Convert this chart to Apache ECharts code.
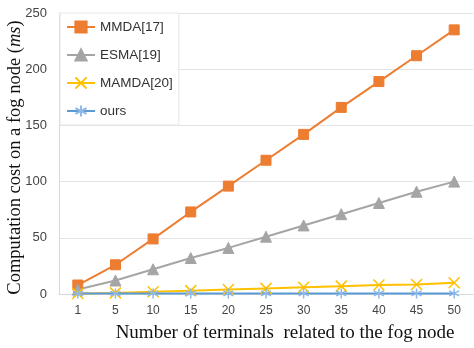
<!DOCTYPE html>
<html><head><meta charset="utf-8">
<script src="https://cdn.jsdelivr.net/npm/echarts@6/dist/echarts.min.js"></script>
<style>html,body{margin:0;padding:0;background:#fff}#c{width:474px;height:348px}</style>
</head><body><div id="c"></div>
<script>
const categories = ['1','5','10','15','20','25','30','35','40','45','50'];
const mmda = [8, 26, 49, 73, 96, 119, 142, 166, 189, 212, 235];
const esma = [4, 12, 22, 32, 41, 51, 61, 71, 81, 91, 100];
const mamda = [0.5, 1, 2, 3, 4, 5, 6, 7, 8, 8.5, 10];
const ours = [0.4, 0.4, 0.5, 0.5, 0.5, 0.5, 0.5, 0.5, 0.5, 0.5, 0.5];
const yTicks = [0, 50, 100, 150, 200, 250];

const xPath = 'path://M0,0L10,10M10,0L0,10';
const starPath = 'path://M5,0L5,10M0,2.5L10,7.5M0,7.5L10,2.5';

const chart = echarts.init(document.getElementById('c'));
function s(name, data, color, symbol, size, extra) {
  return Object.assign({
    name, type: 'line', data, symbol, symbolSize: size,
    lineStyle: {color, width: 2},
    itemStyle: {color, borderColor: color, borderWidth: 1},
    z: 3
  }, extra || {});
}
chart.setOption({
  animation: false,
  grid: {left: 59, right: 1, top: 13, bottom: 54, containLabel: false, outerBoundsMode: 'none'},
  legend: {
    orient: 'vertical', left: 60, top: 13,
    itemGap: 14, itemWidth: 28, itemHeight: 14,
    padding: [7, 6, 7, 6],
    backgroundColor: '#fff', borderColor: '#e6e6e6', borderWidth: 1,
    textStyle: {fontFamily: 'Liberation Sans', fontSize: 13.5, color: '#333'},
    data: ['MMDA[17]', 'ESMA[19]', 'MAMDA[20]', 'ours']
  },
  xAxis: {
    type: 'category', data: categories, boundaryGap: true,
    name: 'Number of terminals  related to the fog node',
    nameLocation: 'middle', nameGap: 30, nameMoveOverlap: false,
    nameTextStyle: {fontFamily: 'Liberation Serif', fontSize: 19, color: '#111', padding: [0, 0, 0, 38]},
    axisLine: {lineStyle: {color: '#d9d9d9'}},
    axisTick: {show: false},
    axisLabel: {fontFamily: 'Liberation Sans', fontSize: 12, color: '#444', margin: 11},
    z: 1
  },
  yAxis: {
    type: 'value', min: 0, max: 250, interval: 50,
    name: '{n|Computation cost on a fog node (}{i|ms}{n|)}',
    nameLocation: 'middle', nameGap: 34, nameMoveOverlap: false,
    nameTextStyle: {padding: [0, 8, 0, 0], rich: {
      n: {fontFamily: 'Liberation Serif', fontSize: 18.5, color: '#111'},
      i: {fontFamily: 'Liberation Serif', fontSize: 18.5, color: '#111', fontStyle: 'italic'}
    }},
    axisLine: {show: true, lineStyle: {color: '#d9d9d9'}},
    axisTick: {show: false},
    splitLine: {lineStyle: {color: '#e3e3e3'}},
    axisLabel: {fontFamily: 'Liberation Sans', fontSize: 13, color: '#444', margin: 12,
      formatter: v => yTicks.includes(v) ? String(v) : ''}
  },
  series: [
    s('MMDA[17]', mmda, '#ED7D31', 'rect', 10),
    s('ESMA[19]', esma, '#A5A5A5', 'triangle', 11),
    s('MAMDA[20]', mamda, '#FFC000', xPath, 11, {itemStyle: {color: '#FFC000', borderColor: '#FFC000', borderWidth: 1.5}}),
    s('ours', ours, '#5B9BD5', starPath, 10, {itemStyle: {color: '#8DB8E8', borderColor: '#8DB8E8', borderWidth: 1.5}})
  ]
});
</script></body></html>
